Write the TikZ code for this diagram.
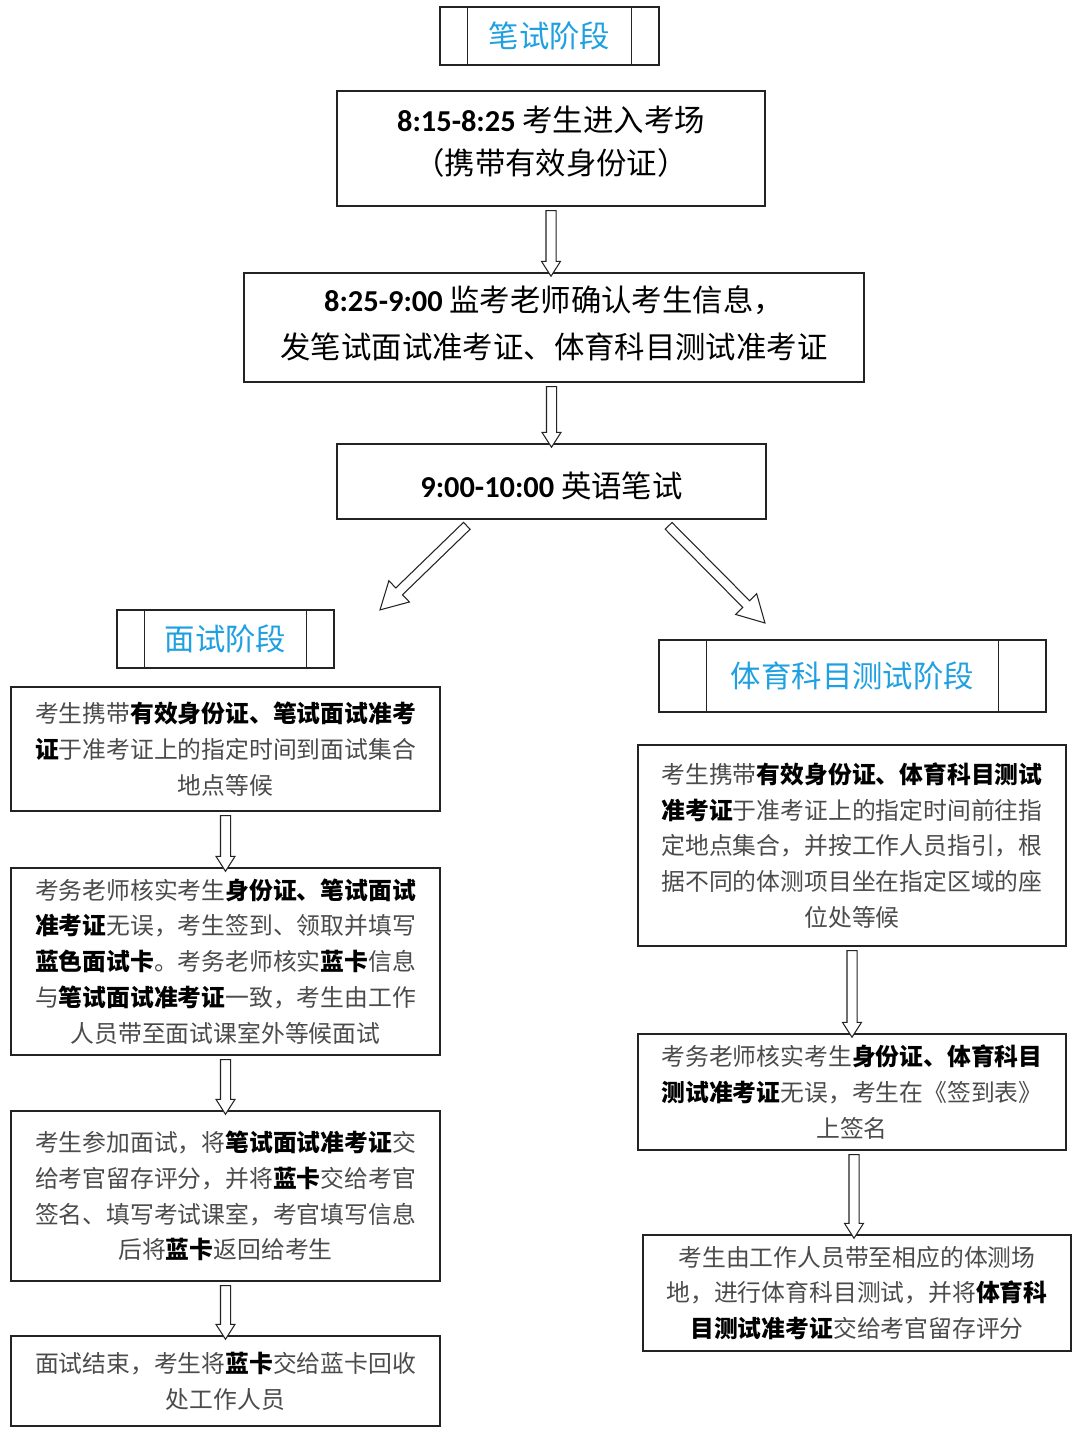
\documentclass[tikz,border=0pt]{standalone}
\usepackage{fontspec}
\setmainfont{Noto Sans CJK SC}
\newfontfamily\latinfont{Carlito}
\usepackage{xcolor}
\usetikzlibrary{shapes.arrows,calc}

\definecolor{stagecyan}{RGB}{30,160,225}
\definecolor{bodygray}{RGB}{75,75,75}
\definecolor{linegray}{RGB}{35,35,35}

% hollow block arrow between two points
\newcommand{\hollowarrow}[3][]{%
  \path let \p1=($(#3)-(#2)$), \n1={veclen(\x1,\y1)}, \n2={atan2(\y1,\x1)} in
    node[flowarrow,#1,minimum height=\n1,rotate=\n2] at ($(#2)!0.5!(#3)$) {};}
% lines of a time box, moved up or down a little
\newcommand{\timelines}[2]{\smash{\raisebox{#1}{\begin{tabular}{@{}c@{}}#2\end{tabular}}}}

\begin{document}
\begin{tikzpicture}[x=0.02cm,y=-0.02cm,
    box/.style={draw=linegray,line width=0.8pt,inner sep=0pt,align=center},
    stagebox/.style={box,text=stagecyan,font=\fontsize{17.3}{20}\selectfont},
    timebox/.style={box,font=\fontsize{17.3}{24.4}\selectfont},
    stepbox/.style={box,minimum width=8.58cm,text=bodygray,font=\fontsize{13.55}{20.4}\selectfont},
    flowarrow/.style={single arrow,draw=linegray,line width=0.6pt,fill=white,inner xsep=0pt,inner ysep=0.09cm,
      single arrow head extend=0.09cm,single arrow tip angle=65},
    splitarrow/.style={inner ysep=0.085cm,single arrow head extend=0.2cm,single arrow tip angle=58}]
\useasboundingbox (0,0) rectangle (1080,1445);
\newcommand{\hl}[1]{\textcolor{black}{\textbf{#1}}}

% written test
\node[stagebox,minimum width=4.38cm,minimum height=1.16cm](h1) at (549.5,36) {笔试阶段};
\node[timebox,minimum width=8.56cm,minimum height=2.3cm](t1) at (551,148.5)
  {\timelines{-0.07cm}{{\latinfont\bfseries 8:15-8:25} 考生进入考场\\（携带有效身份证）}};
\node[timebox,minimum width=12.4cm,minimum height=2.18cm,font=\fontsize{17.3}{26.6}\selectfont](t2) at (554,327.5)
  {\timelines{-0.12cm}{{\latinfont\bfseries 8:25-9:00} 监考老师确认考生信息，\\发笔试面试准考证、体育科目测试准考证}};
\node[timebox,minimum width=8.58cm,minimum height=1.5cm](t3) at (551.5,481.5)
  {\timelines{-0.31cm}{{\latinfont\bfseries 9:00-10:00} 英语笔试}};

% interview
\node[stagebox,minimum width=4.34cm,minimum height=1.16cm](h2) at (225.5,639) {面试阶段};
\node[stepbox,minimum height=2.48cm](l1) at (225.5,749)
  {考生携带\hl{有效身份证、笔试面试准考}\\\hl{证}于准考证上的指定时间到面试集合\\地点等候};
\node[stepbox,minimum height=3.74cm](l2) at (225.5,961.5)
  {考务老师核实考生\hl{身份证、笔试面试}\\\hl{准考证}无误，考生签到、领取并填写\\\hl{蓝色面试卡}。考务老师核实\hl{蓝卡}信息\\与\hl{笔试面试准考证}一致，考生由工作\\人员带至面试课室外等候面试};
\node[stepbox,minimum height=3.4cm](l3) at (225.5,1196)
  {考生参加面试，将\hl{笔试面试准考证}交\\给考官留存评分，并将\hl{蓝卡}交给考官\\签名、填写考试课室，考官填写信息\\后将\hl{蓝卡}返回给考生};
\node[stepbox,minimum height=1.8cm](l4) at (225.5,1381)
  {面试结束，考生将\hl{蓝卡}交给蓝卡回收\\处工作人员};

% sports test
\node[stagebox,minimum width=7.74cm,minimum height=1.44cm](h3) at (852.5,676) {体育科目测试阶段};
\node[stepbox,minimum width=8.56cm,minimum height=4.02cm](r1) at (852,845.5)
  {考生携带\hl{有效身份证、体育科目测试}\\\hl{准考证}于准考证上的指定时间前往指\\定地点集合，并按工作人员指引，根\\据不同的体测项目坐在指定区域的座\\位处等候};
\node[stepbox,minimum width=8.56cm,minimum height=2.32cm](r2) at (852,1092)
  {考务老师核实考生\hl{身份证、体育科目}\\\hl{测试准考证}无误，考生在《签到表》\\上签名};
\node[stepbox,minimum width=8.56cm,minimum height=2.32cm](r3) at (857,1293)
  {考生由工作人员带至相应的体测场\\地，进行体育科目测试，并将\hl{体育科}\\\hl{目测试准考证}交给考官留存评分};

% side bars of the stage titles
\foreach \n/\d in {h1/28,h2/28,h3/48}{
  \draw[linegray,line width=0.8pt] ($(\n.north west)+(\d,0)$) -- ($(\n.south west)+(\d,0)$);
  \draw[linegray,line width=0.8pt] ($(\n.north east)+(-\d,0)$) -- ($(\n.south east)+(-\d,0)$);
}

% arrows
\hollowarrow{t1.south}{t1.south |- t2.north}
\hollowarrow{t2.south -| t3.north}{t3.north}
\coordinate (sl) at ($(t3.south)+(-81.5,3)$);
\coordinate (sr) at ($(t3.south)+(114,3)$);
\coordinate (el) at (383,607);
\coordinate (er) at (762,620);
\hollowarrow[splitarrow]{sl}{el}
\hollowarrow[splitarrow]{sr}{er}
\foreach \a/\b in {l1/l2,l2/l3,l3/l4,r1/r2}
  \hollowarrow{\a.south}{\a.south |- \b.north};
\coordinate (r2b) at ($(r2.south)+(2,0)$);
\hollowarrow{r2b}{r2b |- r3.north}
\end{tikzpicture}
\end{document}
